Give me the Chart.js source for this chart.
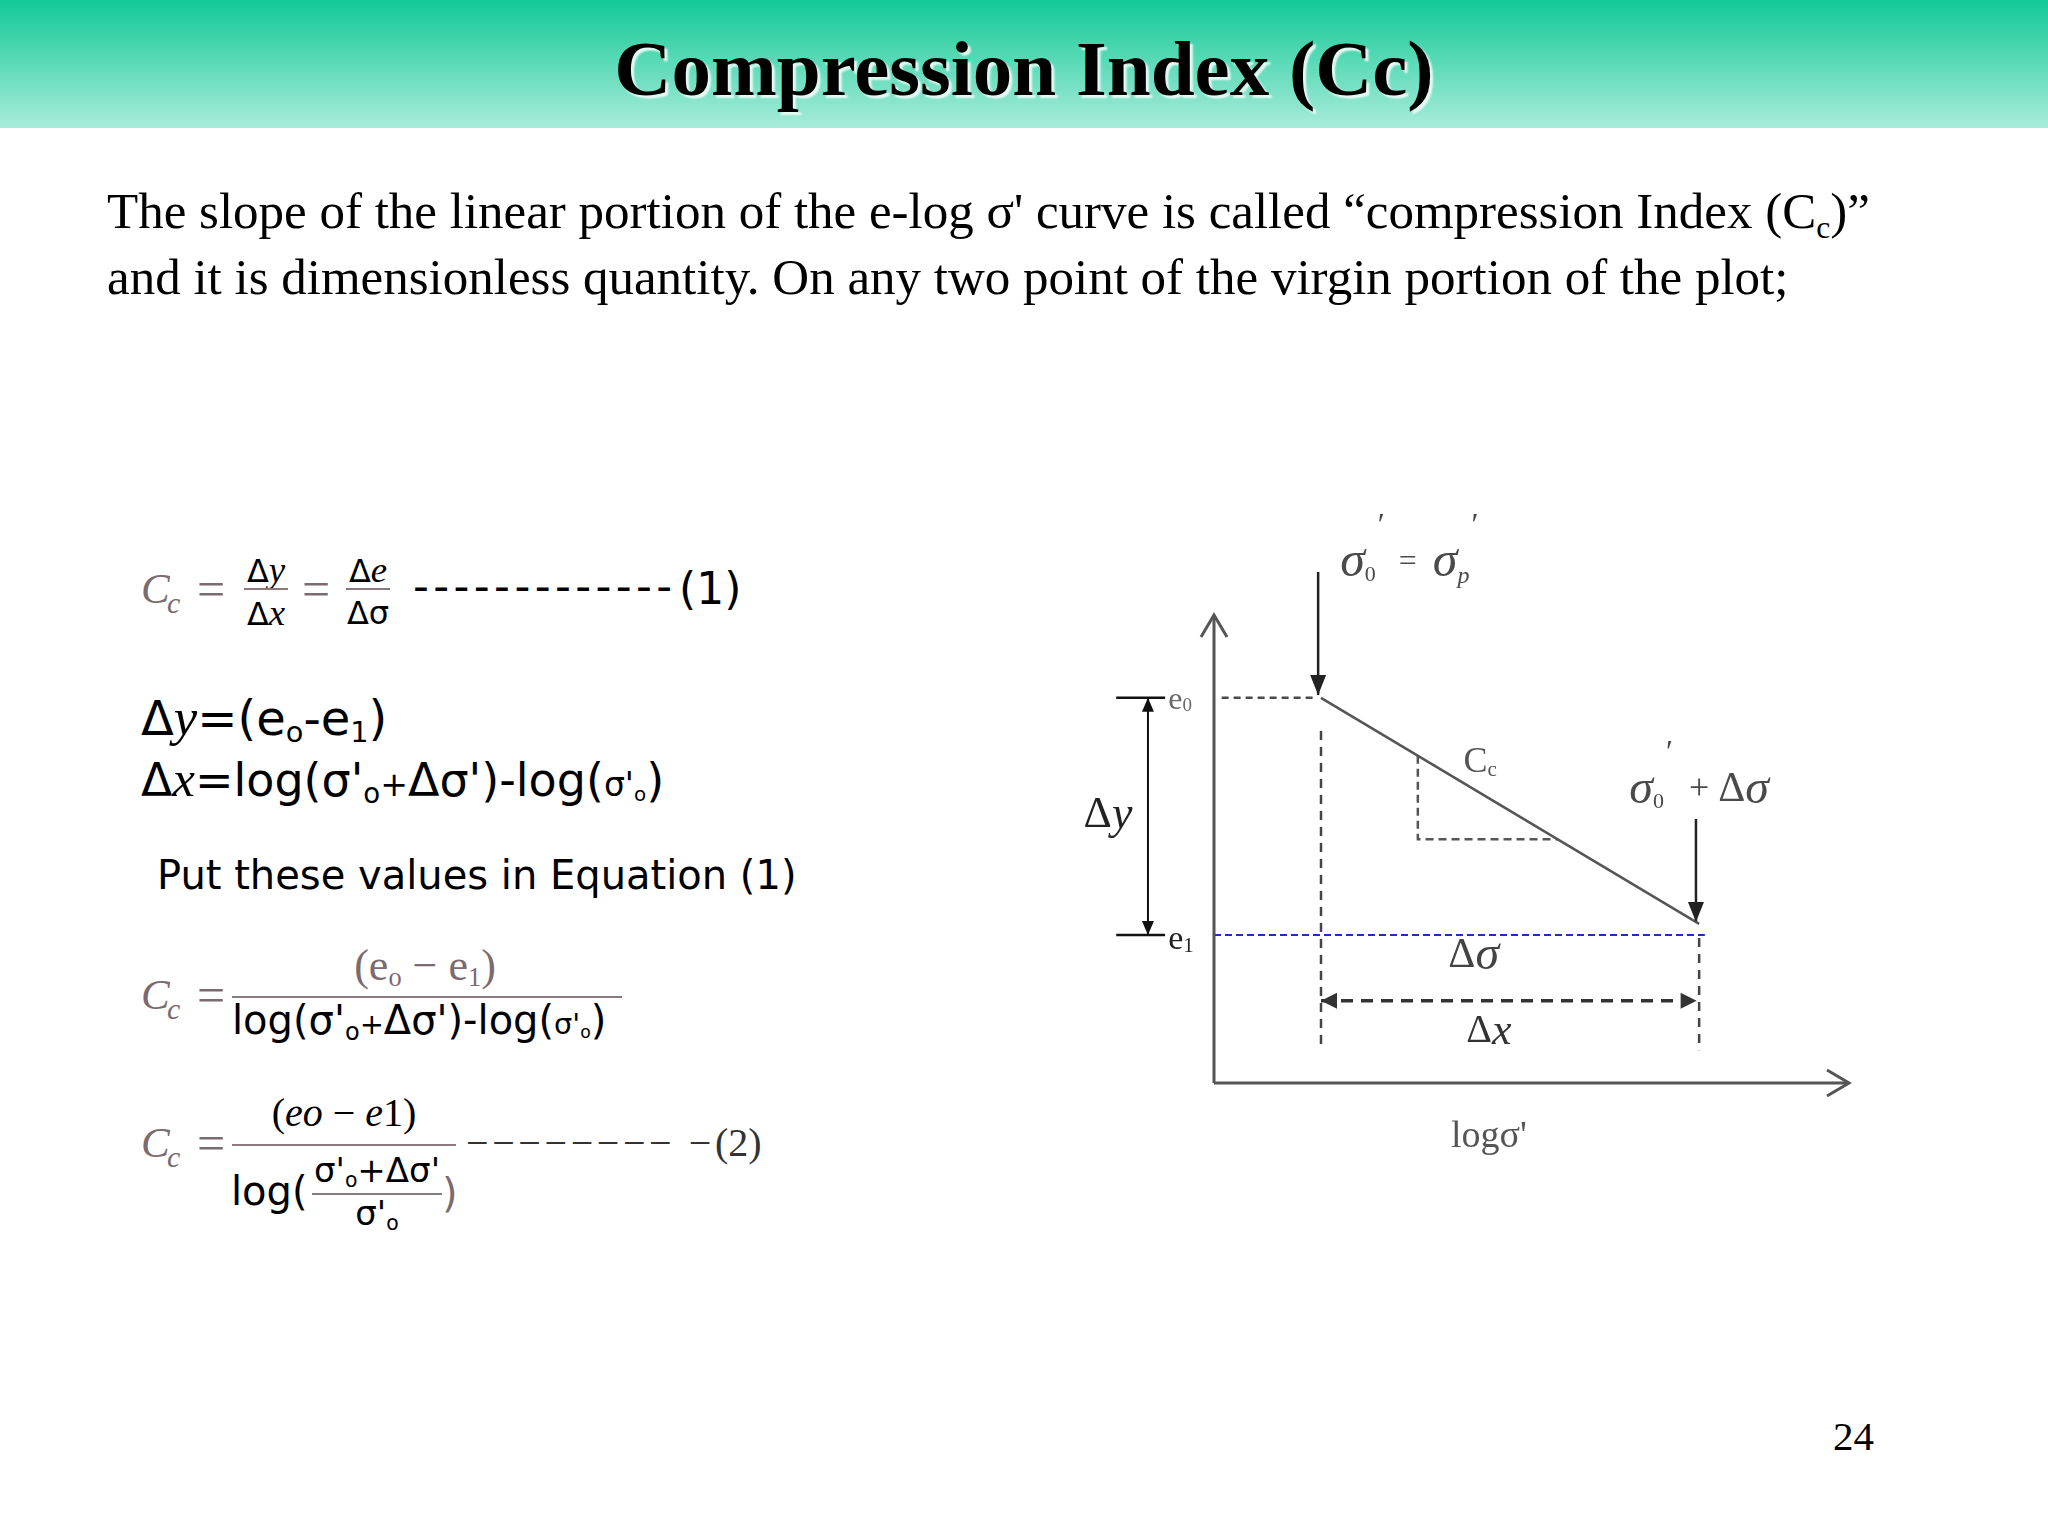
<!DOCTYPE html>
<html>
<head>
<meta charset="utf-8">
<script src="https://cdn.jsdelivr.net/npm/chart.js@4.4.0/dist/chart.umd.min.js"></script>
<style>
html, body { margin: 0; padding: 0; background: #fff; }
#slide { position: relative; width: 2048px; height: 1536px; overflow: hidden; background: #fff; }
#head { position: absolute; left: 0; top: 0; width: 2048px; height: 128px; background: linear-gradient(#12c996, #a8ecda); }
#title { position: absolute; left: 0; top: 68px; width: 2048px; text-align: center; transform: translateY(-50%);
  font: bold 79px "Liberation Serif"; line-height: 1; color: #000; text-shadow: 3px 3px 2px rgba(235,252,247,0.95); }
.t { position: absolute; white-space: nowrap; line-height: 1; transform: translateY(-50%); }
.c { transform: translate(-50%, -50%); }
.para { font-family: "Liberation Serif"; font-size: 51px; color: #000; left: 107px; }
.sans { font-family: "DejaVu Sans"; }
.ser { font-family: "Liberation Serif"; }
.it { font-style: italic; }
.mv { color: #7b6a6e; }
.sb { font-size: 0.6em; vertical-align: -0.25em; }
.sm { font-size: 0.72em; }
.ln { position: absolute; height: 2px; background: #8a7a7e; }
#diagram { position: absolute; left: 1040px; top: 480px; }
</style>
</head>
<body>
<div id="slide">
  <div id="head"></div>
  <div id="title">Compression Index (Cc)</div>

  <div class="t para" style="top:215px">The slope of the linear portion of the e-log σ' curve is called “compression Index (C<span style="font-size:0.62em;vertical-align:-0.3em">c</span>)”</div>
  <div class="t para" style="top:277px">and it is dimensionless quantity. On any two point of the virgin portion of the plot;</div>

  <!-- equation (1) -->
  <div class="t mv ser it" style="left:141px;top:588px;font-size:43px">C</div>
  <div class="t mv ser it" style="left:167px;top:603px;font-size:30px">c</div>
  <div class="t mv ser" style="left:197px;top:589px;font-size:50px">=</div>
  <div class="t c" style="left:266px;top:570px;font-size:32px"><span class="sans">Δ</span><span class="ser it" style="font-size:1.15em">y</span></div>
  <div class="ln" style="left:244px;top:588px;width:44px"></div>
  <div class="t c" style="left:266px;top:613px;font-size:32px"><span class="sans">Δ</span><span class="ser it" style="font-size:1.15em">x</span></div>
  <div class="t mv ser" style="left:302px;top:589px;font-size:50px">=</div>
  <div class="t c" style="left:368px;top:570px;font-size:32px"><span class="sans">Δ</span><span class="ser it" style="font-size:1.15em">e</span></div>
  <div class="ln" style="left:346px;top:588px;width:44px"></div>
  <div class="t c sans" style="left:368px;top:613px;font-size:32px">Δσ</div>
  <div class="t sans" style="left:413px;top:586px;font-size:44px;letter-spacing:4.4px">-------------</div>
  <div class="t sans" style="left:679px;top:589px;font-size:44px">(1)</div>

  <div class="t sans" style="left:141px;top:719px;font-size:48px">Δ<span class="ser it" style="font-size:1.1em">y</span>=(e<span class="sb">o</span>-e<span class="sb">1</span>)</div>
  <div class="t sans" style="left:141px;top:781px;font-size:46px">Δ<span class="ser it" style="font-size:1.1em">x</span>=log(σ'<span class="sb">o</span><span class="sm">+</span>Δσ')-log(<span class="sm">σ'<span class="sb">o</span></span>)</div>

  <div class="t sans" style="left:157px;top:875px;font-size:40px">Put these values in Equation (1)</div>

  <!-- substituted form -->
  <div class="t mv ser it" style="left:141px;top:994px;font-size:43px">C</div>
  <div class="t mv ser it" style="left:167px;top:1009px;font-size:30px">c</div>
  <div class="t mv ser" style="left:197px;top:995px;font-size:50px">=</div>
  <div class="t c mv ser" style="left:425px;top:967px;font-size:44px">(e<span class="sb">o</span> − e<span class="sb">1</span>)</div>
  <div class="ln" style="left:232px;top:996px;width:390px"></div>
  <div class="t sans" style="left:232px;top:1022px;font-size:40px">log(σ'<span class="sb">o</span><span class="sm">+</span>Δσ')-log(<span class="sm">σ'<span class="sb">o</span></span>)</div>

  <!-- equation (2) -->
  <div class="t mv ser it" style="left:141px;top:1142px;font-size:43px">C</div>
  <div class="t mv ser it" style="left:167px;top:1157px;font-size:30px">c</div>
  <div class="t mv ser" style="left:197px;top:1143px;font-size:50px">=</div>
  <div class="t c ser" style="left:344px;top:1113px;font-size:40px">(<i>eo</i> − <i>e</i>1)</div>
  <div class="ln" style="left:232px;top:1144px;width:224px"></div>
  <div class="t sans" style="left:231px;top:1191px;font-size:40px">log(</div>
  <div class="t c sans" style="left:377px;top:1172px;font-size:34px">σ'<span class="sb">o</span>+Δσ'</div>
  <div class="ln" style="left:312px;top:1193px;width:130px"></div>
  <div class="t c sans" style="left:377px;top:1215px;font-size:34px">σ'<span class="sb">o</span></div>
  <div class="t sans mv" style="left:442px;top:1193px;font-size:40px">)</div>
  <div class="t ser" style="left:466px;top:1143px;font-size:40px;letter-spacing:3.6px;color:#333">−−−−−−−− −</div>
  <div class="t ser" style="left:715px;top:1143px;font-size:40px;color:#333">(2)</div>

  <div class="t ser" style="left:1833px;top:1436px;font-size:41px">24</div>

  <canvas id="diagram" width="860" height="720"></canvas>
</div>

<script>
// e - log sigma' sketch, data units (x = log sigma', y = void ratio e)
var virginX = [1.685, 7.64]
var virginE = [8.23, 3.40]
var e0 = 8.23
var e1 = 3.16

var yAxisX = [0, 0],      yAxisY = [0, 10]
var xAxisX = [0, 10],     xAxisY = [0, 0]
var e0GuideX = [0.12, 1.6]
var e1GuideX = [0, 7.73]
var leftDropX = [1.685, 1.685],  leftDropY = [7.52, 0.70]
var rightDropX = [7.64, 7.64],   rightDropY = [3.10, 0.70]
var slopeX = [3.21, 3.21, 5.42], slopeY = [6.99, 5.21, 5.21]
var dxArrowX = [1.685, 7.6],     dxArrowY = [1.76, 1.76]
var dyArrowX = [-1.04, -1.04]
var tickX = [-1.54, -0.77]
var load1X = [1.64, 1.64],       load1Y = [10.92, 8.29]
var load2X = [7.59, 7.59],       load2Y = [5.64, 3.44]

// text labels: position in data units, then runs [text, size, italic, dy]
var labelX = [-0.72, -0.72, -1.67, 4.19, 4.09, 4.33, 4.33, 3.06, 7.64]
var labelY = [8.18, 3.06, 5.71, 6.84, 2.71, 1.09, -1.15, 11.11, 6.26]
var labelAlign = ['left', 'left', 'center', 'center', 'center', 'center', 'center', 'center', 'center']
var labelColor = ['#6a6a6a', '#222', '#222', '#555', '#444', '#333', '#555', '#4a4a4a', '#4a4a4a']
var labelRuns = [
    [['e', 32, false, 0], ['0', 19, false, 6]],
    [['e', 34, false, 0], ['1', 21, false, 7]],
    [['Δ', 44, false, 0], ['y', 46, true, 0]],
    [['C', 36, false, 0], ['c', 21, false, 8]],
    [['Δ', 42, false, 0], ['σ', 48, true, 0]],
    [['Δ', 40, false, 0], ['x', 44, true, 0]],
    [['logσ\'', 38, false, 0]],
    [['σ', 50, true, 0], ['0', 22, false, 12], ['′', 32, true, -36], ['  =  ', 32, false, 0],
     ['σ', 50, true, 0], ['p', 24, true, 14], ['′', 32, true, -36]],
    [['σ', 48, true, 0], ['0', 22, false, 12], ['′', 32, true, -36], ['  + ', 36, false, 0],
     ['Δ', 42, false, 0], ['σ', 48, true, 0]]
]

function pts(xs, ys) {
    return xs.map(function (x, i) { return {x: x, y: ys[i]} })
}
function flat(xs, y) {
    return xs.map(function (x) { return {x: x, y: y} })
}
function seg(data, color, width, dash, extra) {
    var d = {data: data, borderColor: color, borderWidth: width, borderDash: dash || [],
             pointRadius: 0, fill: false, tension: 0}
    for (var k in extra) d[k] = extra[k]
    return d
}

var arrowPlugin = {
    id: 'arrowHeads',
    afterDatasetsDraw: function (chart) {
        var ctx = chart.ctx
        chart.data.datasets.forEach(function (ds, i) {
            if (!ds.headEnd && !ds.headStart) return
            var p = chart.getDatasetMeta(i).data
            if (ds.headEnd) drawHead(ctx, p[p.length - 1], p[p.length - 2], ds.headEnd, ds.borderColor)
            if (ds.headStart) drawHead(ctx, p[0], p[1], ds.headStart, ds.borderColor)
        })
    }
}

function drawHead(ctx, tip, from, h, color) {
    var dx = tip.x - from.x, dy = tip.y - from.y
    var len = Math.sqrt(dx * dx + dy * dy)
    var ux = dx / len, uy = dy / len
    var bx = tip.x - ux * h.len, by = tip.y - uy * h.len
    ctx.save()
    ctx.setLineDash([])
    ctx.strokeStyle = color
    ctx.fillStyle = color
    ctx.lineWidth = h.width || 3
    ctx.beginPath()
    if (h.open) {
        ctx.moveTo(bx - uy * h.half, by + ux * h.half)
        ctx.lineTo(tip.x, tip.y)
        ctx.lineTo(bx + uy * h.half, by - ux * h.half)
        ctx.stroke()
    } else {
        ctx.moveTo(tip.x, tip.y)
        ctx.lineTo(bx - uy * h.half, by + ux * h.half)
        ctx.lineTo(bx + uy * h.half, by - ux * h.half)
        ctx.closePath()
        ctx.fill()
    }
    ctx.restore()
}

var labelPlugin = {
    id: 'sketchLabels',
    afterDraw: function (chart) {
        var ctx = chart.ctx
        var sx = chart.scales.x, sy = chart.scales.y
        ctx.save()
        ctx.textBaseline = 'middle'
        ctx.textAlign = 'left'
        labelRuns.forEach(function (runs, i) {
            var fontOf = function (r) {
                return (r[2] ? 'italic ' : '') + r[1] + 'px "Liberation Serif"'
            }
            var total = 0
            runs.forEach(function (r) { ctx.font = fontOf(r); total += ctx.measureText(r[0]).width })
            var px = sx.getPixelForValue(labelX[i])
            var py = sy.getPixelForValue(labelY[i])
            var x = labelAlign[i] == 'center' ? px - total / 2 : px
            ctx.fillStyle = labelColor[i]
            runs.forEach(function (r) {
                ctx.font = fontOf(r)
                ctx.fillText(r[0], x, py + r[3])
                x += ctx.measureText(r[0]).width
            })
        })
        ctx.restore()
    }
}

var axisHead = {open: true, len: 22, half: 13, width: 3}
var loadHead = {len: 20, half: 8}
var smallHead = {len: 14, half: 6}
var dxHead = {len: 16, half: 8}

var ctx = document.getElementById('diagram').getContext('2d')
var myChart = new Chart(ctx, {
    type: 'line',
    data: {
        datasets: [
            seg(pts(yAxisX, yAxisY), '#555', 3, [], {headEnd: axisHead}),
            seg(pts(xAxisX, xAxisY), '#555', 3, [], {headEnd: axisHead}),
            seg(flat(e0GuideX, e0), '#4a4a4a', 2.5, [7, 5]),
            seg(flat(e1GuideX, e1), '#2a2ab8', 2, [7, 4]),
            seg(pts(leftDropX, leftDropY), '#444', 2.5, [9, 7]),
            seg(pts(rightDropX, rightDropY), '#444', 2.5, [9, 7]),
            seg(pts(slopeX, slopeY), '#555', 2.5, [8, 5]),
            seg(pts(virginX, virginE), '#555', 2.5),
            seg(pts(dxArrowX, dxArrowY), '#333', 3.5, [12, 8], {headStart: dxHead, headEnd: dxHead}),
            seg(pts(dyArrowX, [e0, e1]), '#111', 2, [], {headStart: smallHead, headEnd: smallHead}),
            seg(flat(tickX, e0), '#111', 2.5),
            seg(flat(tickX, e1), '#111', 2.5),
            seg(pts(load1X, load1Y), '#222', 2.5, [], {headEnd: loadHead}),
            seg(pts(load2X, load2Y), '#222', 2.5, [], {headEnd: loadHead})
        ]
    },
    options: {
        responsive: false,
        animation: false,
        events: [],
        layout: {padding: {left: 15.25, right: 19.25, top: 18, bottom: 23.4}},
        plugins: {legend: {display: false}, tooltip: {enabled: false}},
        scales: {
            x: {type: 'linear', min: -2.5, max: 10.5, display: false},
            y: {type: 'linear', min: -2, max: 12.5, display: false}
        }
    },
    plugins: [arrowPlugin, labelPlugin]
})
</script>
</body>
</html>
